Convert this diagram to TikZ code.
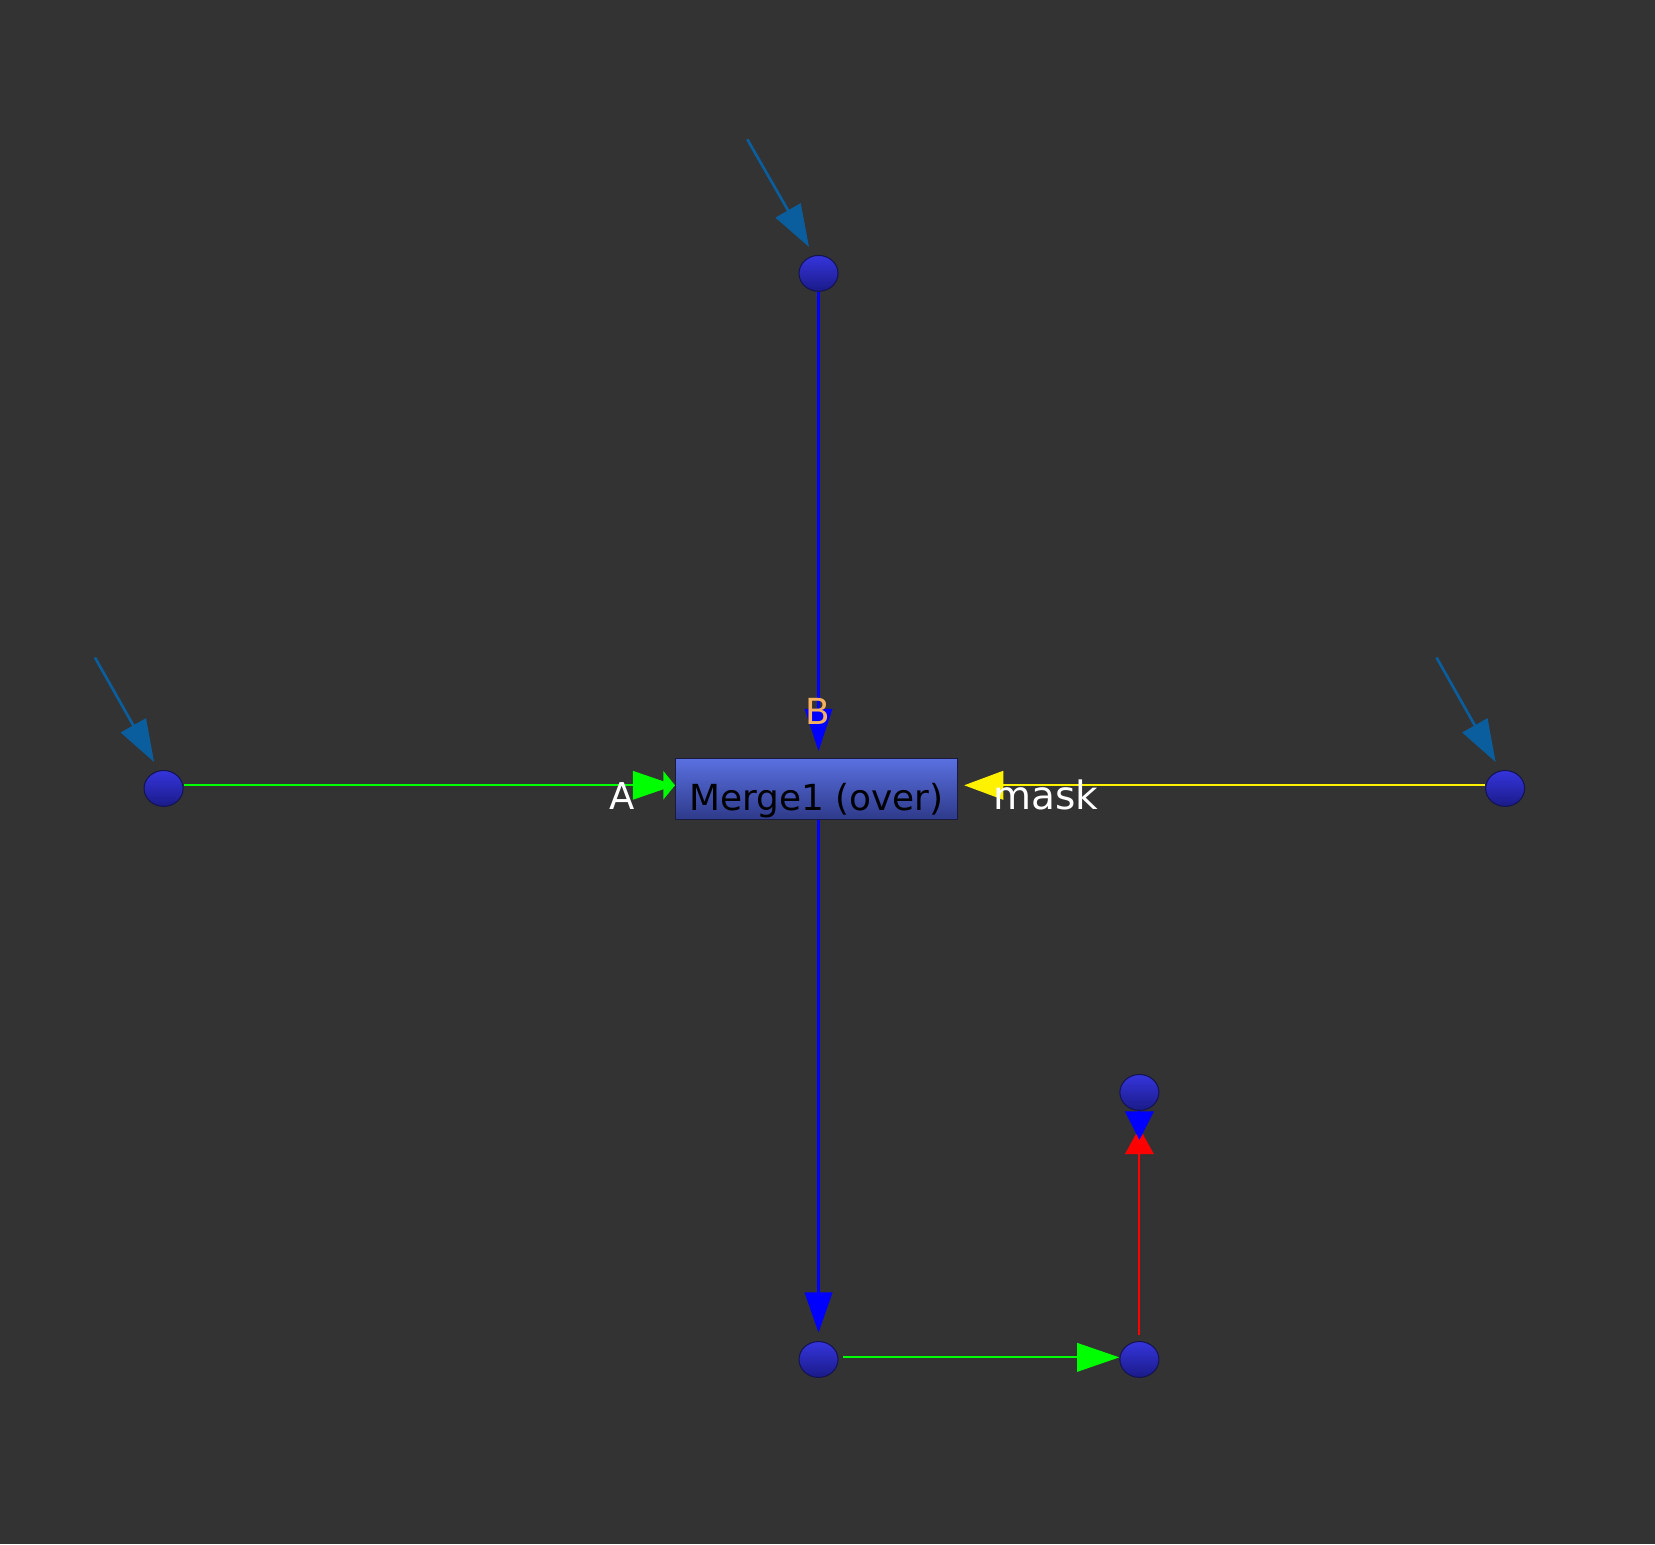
\documentclass[tikz,border=0pt]{standalone}
\usepackage{fontspec}
\setmainfont{DejaVu Sans}
\usetikzlibrary{arrows.meta,shapes.geometric}
\definecolor{bg}{HTML}{333333}
\definecolor{pointer}{HTML}{0A5E9E}
\definecolor{boxtop}{HTML}{5A70E0}
\definecolor{boxbot}{HTML}{2E3A8A}
\definecolor{boxline}{HTML}{1A1A40}
\definecolor{dottop}{HTML}{3535DD}
\definecolor{dotbot}{HTML}{1A1A88}
\definecolor{dotline}{HTML}{141450}
\definecolor{labelB}{HTML}{F5B060}
\tikzset{
  dot/.style={ellipse, minimum width=37pt, minimum height=34pt, inner sep=0pt,
    top color=dottop, bottom color=dotbot, draw=dotline, line width=1pt},
  mergebox/.style={rectangle, minimum width=267pt, minimum height=57pt, inner sep=0pt,
    text height=48pt, text depth=8pt,
    top color=boxtop, bottom color=boxbot, draw=boxline, line width=1pt,
    font=\fontsize{34}{34}\selectfont, text=black},
  lbl/.style={anchor=base, inner sep=0pt},
  pointerarrow/.style={pointer, line width=2.5pt, -{Triangle[length=40pt,width=27pt]}},
  conn/.style={line width=2pt},
}
\begin{document}
\begin{tikzpicture}[x=1pt,y=-1pt]
\useasboundingbox (0,0) rectangle (1568,1463);
\fill[bg] (0,0) rectangle (1568,1463);

\node[mergebox] (merge) at (773.5,747.5) {Merge1 (over)};
\node[dot] (top) at (775.5,259) {};
\node[dot] (left) at (155,747) {};
\node[dot] (right) at (1426,747) {};
\node[dot] (bl) at (775.5,1288) {};
\node[dot] (br) at (1079.5,1288) {};
\node[dot] (ur) at (1079.5,1035) {};

\coordinate (ptop) at (708,132);
\coordinate (pleft) at (90,623);
\coordinate (pright) at (1361,623);
\coordinate (urtip) at (1079.5,1080);

% pointers
\draw[pointerarrow] (ptop) -- ([xshift=-9pt,yshift=25pt]top.center);
\draw[pointerarrow] (pleft) -- ([xshift=-9pt,yshift=25pt]left.center);
\draw[pointerarrow] (pright) -- ([xshift=-9pt,yshift=25pt]right.center);

% B input
\draw[conn, blue, -{Triangle[length=40pt,width=26pt]}, shorten >=7pt]
  (top.south) -- (merge.north -| top.south);
% A input
\draw[conn, green, -{Triangle[length=40pt,width=27pt]}]
  ([yshift=3pt]left.east) -- ([yshift=3.5pt]merge.west);
\fill[green] ([yshift=3.5pt]merge.west) -- ++(-11,-13.5) -- ++(0,27) -- cycle;
% mask input
\draw[conn, yellow, -{Triangle[length=37pt,width=27pt]}, shorten >=6pt]
  ([yshift=3pt]right.west) -- ([yshift=3.5pt]merge.east);
% output
\draw[conn, blue, -{Triangle[length=38pt,width=26pt]}, shorten >=8pt]
  (merge.south -| top.south) -- (bl.north -| top.south);
\draw[conn, green, -{Triangle[length=40pt,width=27pt]}, shorten <=4pt]
  ([yshift=2pt]bl.east) -- ([yshift=2pt]br.west);
\draw[conn, red, -{Triangle[length=25pt,width=27pt]}, shorten >=16pt, shorten <=6pt]
  (br.north) -- (ur.south);
\draw[conn, blue, -{Triangle[length=27pt,width=27pt]}] (ur.south) -- (urtip);

% labels
\node[lbl, text=labelB, font=\fontsize{34}{34}\selectfont] (lB) at (775,686) {B};
\node[lbl, text=white, font=\fontsize{35}{35}\selectfont] (lA) at (589,767) {A};
\node[lbl, text=white, font=\fontsize{37}{37}\selectfont] (lmask) at (991,767) {mask};
\end{tikzpicture}
\end{document}
